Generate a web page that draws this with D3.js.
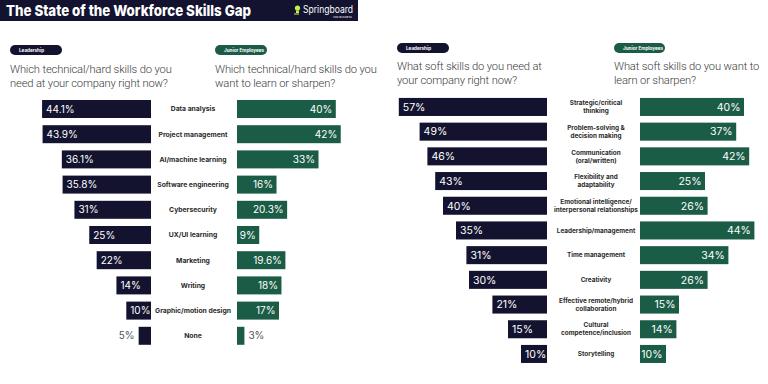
<!DOCTYPE html>
<html>
<meta charset='utf-8'>
<head>
<title>The State of the Workforce Skills Gap</title>
<script src='https://d3js.org/d3.v7.min.js'></script>
<style>
  body { margin: 0; background: #fff; }
  svg { font-family: Inter, 'Open Sans', sans-serif; display: block; }
</style>
</head>
<body>
<div id='my_dataviz'></div>
<script>

// technical / hard skills
var techSkills = ['Data analysis', 'Project management', 'AI/machine learning', 'Software engineering',
    'Cybersecurity', 'UX/UI learning', 'Marketing', 'Writing', 'Graphic/motion design', 'None']
var techLeadership = [44.1, 43.9, 36.1, 35.8, 31, 25, 22, 14, 10, 5]
var techJunior = [40, 42, 33, 16, 20.3, 9, 19.6, 18, 17, 3]

// soft skills ('|' marks a line break)
var softSkills = ['Strategic/critical|thinking', 'Problem-solving &|decision making', 'Communication|(oral/written)',
    'Flexibility and|adaptability', 'Emotional intelligence/|interpersonal relationships', 'Leadership/management',
    'Time management', 'Creativity', 'Effective remote/hybrid|collaboration', 'Cultural|competence/inclusion', 'Storytelling']
var softLeadership = [57, 49, 46, 43, 40, 35, 31, 30, 21, 15, 10]
var softJunior = [40, 37, 42, 25, 26, 44, 34, 26, 15, 14, 10]

var questions = [
    ['Which technical/hard skills do you', 'need at your company right now?'],
    ['Which technical/hard skills do you', 'want to learn or sharpen?'],
    ['What soft skills do you need at', 'your company right now?'],
    ['What soft skills do you want to', 'learn or sharpen?']
]

var navy = '#13132f', green = '#1b5c46'
var width = 768, height = 384

var svg = d3.select('#my_dataviz')
    .append('svg')
    .attr('width', width)
    .attr('height', height)

// header bar
svg.append('rect')
    .attr('x', 0).attr('y', 0)
    .attr('width', 358).attr('height', 21)
    .attr('fill', navy)
svg.append('text')
    .text('The State of the Workforce Skills Gap')
    .attr('x', 6).attr('y', 15.5)
    .attr('fill', '#fff')
    .attr('font-size', 15)
    .attr('font-weight', 800)
    .attr('textLength', 245)
    .attr('lengthAdjust', 'spacingAndGlyphs')

// springboard logo
var logo = svg.append('g')
logo.append('circle').attr('cx', 297.5).attr('cy', 8).attr('r', 2.6).attr('fill', '#c5ee4a')
logo.append('rect').attr('x', 296).attr('y', 10.5).attr('width', 3).attr('height', 2.5).attr('fill', '#c5ee4a')
logo.append('rect').attr('x', 294).attr('y', 13.5).attr('width', 5).attr('height', 1).attr('fill', '#c5ee4a')
logo.append('text').text('Springboard')
    .attr('x', 303).attr('y', 13)
    .attr('fill', '#fff').attr('font-size', 10).attr('font-weight', 400)
    .attr('textLength', 50).attr('lengthAdjust', 'spacingAndGlyphs')
logo.append('text').text('FOR BUSINESS')
    .attr('x', 352).attr('y', 17.5).attr('text-anchor', 'end')
    .attr('fill', '#fff').attr('font-size', 2.6)

function pill(x, y, w, label, color) {
    svg.append('rect')
        .attr('x', x).attr('y', y)
        .attr('width', w).attr('height', 10)
        .attr('rx', 5)
        .attr('fill', color)
    svg.append('text')
        .text(label)
        .attr('x', x + 9).attr('y', y + 6.7)
        .attr('fill', '#fff')
        .attr('font-size', 4.6)
        .attr('font-weight', 700)
}

function question(x, y, lines) {
    svg.append('text')
        .attr('x', x).attr('y', y)
        .attr('fill', '#3a3a3a')
        .attr('font-family', 'Roboto, sans-serif')
        .attr('font-size', 11.2)
        .attr('font-weight', 300)
        .attr('letter-spacing', -0.15)
        .selectAll('tspan')
        .data(lines)
        .join('tspan')
        .attr('x', x)
        .attr('dy', function(d, i) { return i == 0 ? 0 : 14 })
        .text(function(d) { return d })
}

function fmt(v) { return v + '%' }

// one mirrored panel
function panel(opt) {
    var g = svg.append('g')
    var y = d3.scaleBand()
        .domain(opt.skills)
        .range(opt.yRange)
        .paddingInner(opt.pad)
        .paddingOuter(opt.pad / 2)
    var x = d3.scaleLinear()
        .domain([0, 100])
        .range([0, opt.pxPer100])

    var rowsL = opt.skills.map(function(s, i) { return {skill: s, v: opt.lead[i]} })
    var rowsR = opt.skills.map(function(s, i) { return {skill: s, v: opt.junior[i]} })

    g.selectAll('.barL')
        .data(rowsL)
        .join('rect')
        .attr('x', function(d) { return opt.leftEdge - x(d.v) })
        .attr('y', function(d) { return y(d.skill) })
        .attr('width', function(d) { return x(d.v) })
        .attr('height', y.bandwidth())
        .attr('fill', navy)

    g.selectAll('.valL')
        .data(rowsL)
        .join('text')
        .text(function(d) { return fmt(d.v) })
        .attr('x', function(d) { return x(d.v) > 20 ? opt.leftEdge - x(d.v) + 4 : opt.leftEdge - x(d.v) - 4 })
        .attr('text-anchor', function(d) { return x(d.v) > 20 ? 'start' : 'end' })
        .attr('y', function(d) { return y(d.skill) + y.bandwidth() / 2 })
        .attr('dy', '0.36em')
        .attr('fill', function(d) { return x(d.v) > 20 ? '#fff' : '#555' })
        .attr('font-size', opt.valSize)

    g.selectAll('.barR')
        .data(rowsR)
        .join('rect')
        .attr('x', opt.rightEdge)
        .attr('y', function(d) { return y(d.skill) })
        .attr('width', function(d) { return x(d.v) })
        .attr('height', y.bandwidth())
        .attr('fill', green)

    g.selectAll('.valR')
        .data(rowsR)
        .join('text')
        .text(function(d) { return fmt(d.v) })
        .attr('x', function(d) { return x(d.v) > 20 ? opt.rightEdge + x(d.v) - 3.5 : opt.rightEdge + x(d.v) + 4 })
        .attr('text-anchor', function(d) { return x(d.v) > 20 ? 'end' : 'start' })
        .attr('y', function(d) { return y(d.skill) + y.bandwidth() / 2 })
        .attr('dy', '0.36em')
        .attr('fill', function(d) { return x(d.v) > 20 ? '#fff' : '#555' })
        .attr('font-size', opt.valSize)

    var labels = g.selectAll('.lab')
        .data(opt.skills)
        .join('text')
        .attr('text-anchor', 'middle')
        .attr('fill', '#2a2a2a')
        .attr('font-size', opt.labSize)
        .attr('font-weight', 700)
    labels.each(function(d) {
        var lines = d.split('|')
        var cy = y(d) + y.bandwidth() / 2
        d3.select(this).selectAll('tspan')
            .data(lines)
            .join('tspan')
            .attr('x', opt.labelX)
            .attr('y', function(l, i) { return cy + (i - (lines.length - 1) / 2) * 8 })
            .attr('dy', '0.35em')
            .text(function(l) { return l })
    })
}

// left half: technical skills
pill(10, 45, 52, 'Leadership', navy)
pill(215, 45, 52, 'Junior Employees', green)
question(10, 73, questions[0])
question(215, 73, questions[1])
panel({
    skills: techSkills, lead: techLeadership, junior: techJunior,
    yRange: [96.4, 348.4], pad: 0.286, pxPer100: 247,
    leftEdge: 151, rightEdge: 237, labelX: 193,
    valSize: 10, labSize: 6.8
})

// right half: soft skills
pill(397, 43, 52, 'Leadership', navy)
pill(614, 43, 51, 'Junior Employees', green)
question(397, 70, questions[2])
question(614, 70, questions[3])
panel({
    skills: softSkills, lead: softLeadership, junior: softJunior,
    yRange: [94.6, 366.3], pad: 0.27, pxPer100: 260,
    leftEdge: 547, rightEdge: 640, labelX: 596,
    valSize: 10.5, labSize: 6.4
})

</script>
</body>
</html>
